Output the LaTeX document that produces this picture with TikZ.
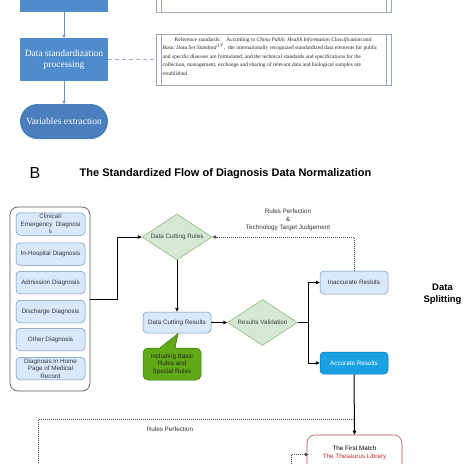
\documentclass[tikz,border=0pt]{standalone}
\usepackage{fontspec}
\setmainfont{Liberation Serif}
\newfontfamily\arialf{Liberation Sans}
\usetikzlibrary{shapes.geometric,arrows.meta,calc}
\definecolor{steel}{RGB}{79,140,203}
\definecolor{steeldark}{RGB}{74,126,189}
\definecolor{steelline}{RGB}{110,143,190}
\definecolor{refline}{RGB}{160,168,184}
\definecolor{boxf}{RGB}{218,232,252}
\definecolor{boxb}{RGB}{108,142,191}
\definecolor{lgreen}{RGB}{213,232,212}
\definecolor{dgreen}{RGB}{130,179,102}
\definecolor{accf}{RGB}{27,161,226}
\definecolor{accb}{RGB}{0,110,175}
\definecolor{calf}{RGB}{96,169,23}
\definecolor{calb}{RGB}{45,118,0}
\definecolor{fmred}{RGB}{184,84,80}
\definecolor{libred}{RGB}{200,40,40}
\tikzset{
  topbox/.style={draw=none, fill=steel, minimum width=88pt, text=white, align=center,
    font=\fontsize{9.5}{11}\selectfont, inner sep=0pt},
  toparr/.style={draw=steelline, line width=0.6pt, -{Triangle[length=3pt,width=3pt]}},
  refbox/.style={draw=refline, line width=0.6pt},
  sfs/.style={font=\arialf\fontsize{6.3}{7.5}\selectfont},
  dbox/.style={sfs, draw=boxb, fill=boxf, rounded corners=4pt, minimum width=69pt,
    minimum height=22.5pt, align=center, text=black!80, inner sep=1pt, line width=0.5pt},
  diam/.style={sfs, diamond, draw=dgreen, fill=lgreen, minimum width=70pt, minimum height=46pt,
    inner sep=0pt, text=black!75, line width=0.5pt},
  arr/.style={line width=1pt, black, -{Triangle[length=4pt,width=3.6pt]}},
  dotln/.style={line width=0.6pt, black!70, dash pattern=on 1pt off 1pt},
  dotarr/.style={dotln, -{Triangle[length=3.5pt,width=3.2pt]}},
}
\begin{document}
\begin{tikzpicture}[x=1pt,y=-1pt]
\useasboundingbox (0,0) rectangle (464,464);
\clip (0,0) rectangle (464,464);
\fill[white] (0,0) rectangle (464,464);

% ---------- upper part (A) ----------
\node[topbox, minimum height=42pt] (topA) at (64,-9) {};
\node[topbox, minimum height=43pt] (std) at (64,59.5) {Data standardization\\processing};
\node[topbox, fill=steeldark, minimum height=35pt, rounded corners=17.5pt] (var) at (64,121.5) {Variables extraction};
\draw[toparr] (topA.south) -- (std.north);
\draw[toparr] (std.south) -- (var.north);

% reference boxes
\node[refbox, minimum width=235pt, minimum height=32pt, inner sep=0pt] (reftop) at (273.5,-4) {};
\draw[refline, line width=0.6pt] (161,-20) -- (161,12) (386,-20) -- (386,12);
\node[refbox, minimum width=235pt, minimum height=51pt, inner sep=0pt] (ref) at (273.5,59.5) {};
\draw[refline, line width=0.6pt] (161,34) -- (161,85) (386,34) -- (386,85);
\node[anchor=north west, inner sep=0pt, align=left, font=\fontsize{5.5}{8.5}\selectfont, text=black!85] (reftxt) at (162.5,37)
{\hspace*{12pt}Reference standards:\hspace{4pt} According to \textit{China Public Health Information Classification and}\\
\textit{Basic Data Set Standard}$^{17}$,\ \ the internationally recognized standardized data elements for public\\
and specific diseases are formulated, and the technical standards and specifications for the\\
collection, management, exchange and sharing of relevant data and biological samples are\\
established.};
\draw[steelline!70, line width=0.6pt, dash pattern=on 4pt off 3pt] (std.east) -- (ref.west);

% ---------- lower part (B) ----------
\node[font=\arialf\fontsize{16}{18}\selectfont] (lblB) at (35,172.5) {B};
\node[font=\arialf\bfseries\fontsize{11}{13}\selectfont] (title) at (225.5,173.5) {The Standardized Flow of Diagnosis Data Normalization};

\node[draw=black!65, line width=0.7pt, rounded corners=8pt, minimum width=80pt, minimum height=184pt, inner sep=0pt] (cont) at (50,299) {};
\node[dbox] (d1) at (50.5,224) {Clinical/\\Emergency~ Diagnosi\\s};
\node[dbox] (d2) at (50.5,254) {In-Hospital Diagnosis};
\node[dbox] (d3) at (50.5,282.5) {Admission Diagnosis};
\node[dbox] (d4) at (50.5,311.5) {Discharge Diagnosis};
\node[dbox] (d5) at (50.5,339.5) {Other Diagnosis};
\node[dbox] (d6) at (50.5,368.5) {Diagnosis in Home\\Page of Medical\\Record};

\node[diam] (dcr) at (177,237) {\makebox[0pt]{Data Cutting Rules}};
\node[dbox, minimum width=68pt, minimum height=21pt] (dcres) at (177,322.5) {Data Cutting Results};
\node[diam] (rv) at (262.5,322.5) {\makebox[0pt]{Results Validation}};
\node[dbox, minimum width=68pt, minimum height=23pt] (inacc) at (354,282.5) {Inaccurate Resluts};
\node[dbox, fill=accf, draw=accb, text=white, minimum width=68pt, minimum height=22pt] (acc) at (354,363) {Accurate Results};

% callout
\fill[calf] (159,350) .. controls (165,343) and (172,339) .. (178,333.5) -- (175,350) -- cycle;
\node[sfs, draw=calb, fill=calf, rounded corners=5pt, minimum width=58pt, minimum height=32pt, align=center, text=black!85, inner sep=1pt, line width=0.5pt] (cb) at (172,364) {Including Basic\\Rules and\\Special Rules};
\fill[calf] (159.5,347) rectangle (174.5,349.5);
\draw[calb, line width=0.5pt] (159.5,348.3) .. controls (165,343) and (172,339) .. (178,333.5) -- (174.8,348.3);

% first match box
\node[draw=fmred, fill=white, line width=0.6pt, rounded corners=8pt, minimum width=95pt, minimum height=60pt, inner sep=0pt] (fm) at (354.5,465) {};
\node[sfs] (fmt1) at (354.5,448.5) {The First Match};
\node[sfs, text=libred] (fmt2) at (354.5,456.5) {The Thesaurus Library};

% data splitting
\node[font=\arialf\bfseries\fontsize{9.5}{12}\selectfont, align=center] (split) at (442.5,294) {Data\\Splitting};

% connectors
\draw[arr] (cont.east) -- ++(27,0) |- (dcr.west);
\draw[arr] (dcr.south) -- (dcres.north);
\draw[arr] (dcres.east) -- (rv.west);
\draw[line width=1pt] (rv.east) -- ++(11,0) coordinate (sp);
\draw[arr] (sp) |- (inacc.west);
\draw[arr] (sp) |- (acc.west);
\draw[dotarr] (inacc.north) |- (dcr.east);
\node[sfs, align=center, text=black!80, font=\arialf\fontsize{6.3}{8}\selectfont] (rptj) at (288,220) {Rules Perfection\\\&\\Technology Target Judgement};
\draw[arr] (acc.south) -- (fm.north);
\path (acc.south) ++(0,45.5) coordinate (rp1);
\coordinate (rp2) at (38.5,470);
\draw[dotln] (rp1) -| (rp2);
\node[sfs, text=black!80] (rplab) at (170,429.5) {Rules Perfection};
\coordinate (lp) at (291.5,470);
\draw[dotarr] (lp) |- ($(fm.west |- fmt2)+(2,-2)$);
\end{tikzpicture}
\end{document}
